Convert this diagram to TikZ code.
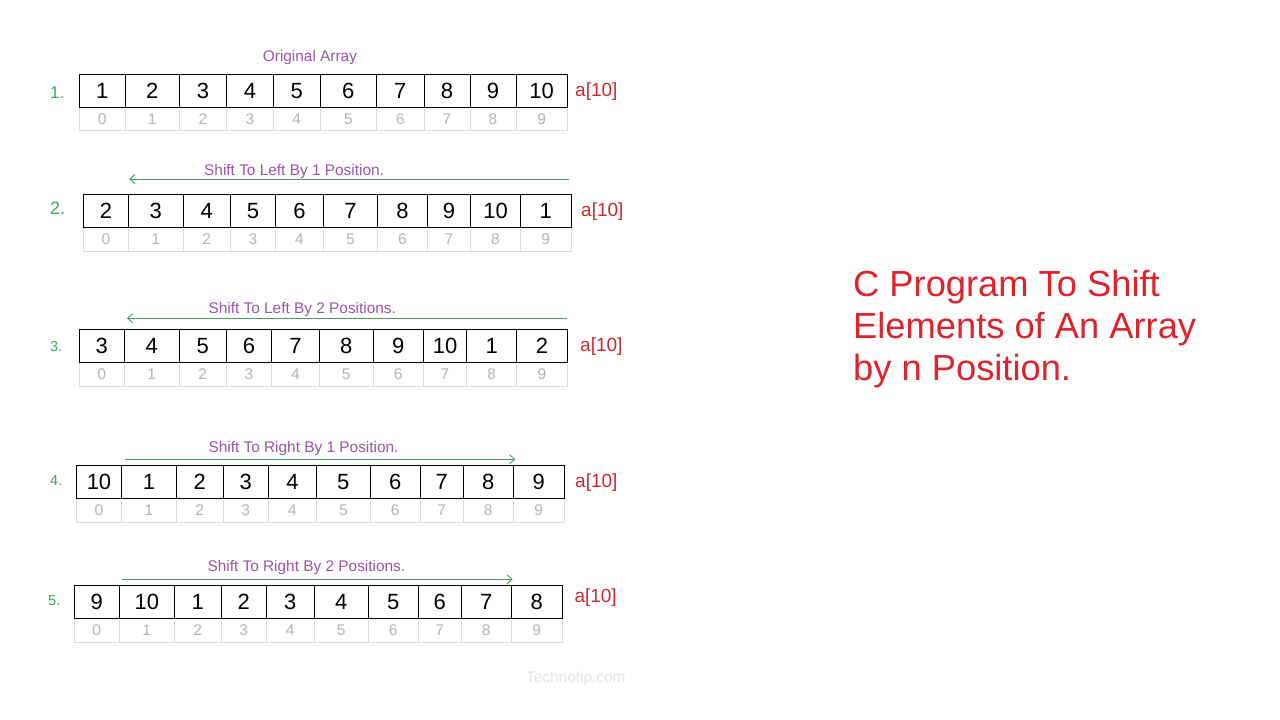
\documentclass[tikz,border=0pt]{standalone}
\usepackage{fontspec}
\setmainfont{Liberation Sans}
\usetikzlibrary{arrows.meta}
\definecolor{lblgreen}{RGB}{60,168,90}
\definecolor{arrgreen}{RGB}{70,160,100}
\definecolor{ttlpurple}{RGB}{155,85,165}
\definecolor{arrred}{RGB}{205,40,45}
\definecolor{bigred}{RGB}{222,35,45}
\definecolor{idxgray}{RGB}{180,180,180}
\definecolor{idxline}{RGB}{220,220,220}
\definecolor{wmgray}{RGB}{228,228,228}
\tikzset{
  cell/.style={draw=black, line width=1pt, inner sep=0pt, outer sep=0pt,
    font=\fontsize{22}{26}\selectfont, text=black},
  idxcell/.style={draw=idxline, line width=1pt, inner sep=0pt, outer sep=0pt,
    font=\fontsize{15.5}{18}\selectfont, text=idxgray},
  rowlbl/.style={anchor=west, inner sep=0pt, text=lblgreen},
  arrlbl/.style={anchor=base west, inner sep=0pt, text=arrred, font=\fontsize{19}{22}\selectfont},
  shifttitle/.style={anchor=base west, inner sep=0pt, text=ttlpurple, font=\fontsize{15.4}{18}\selectfont},
  shiftarrow/.style={draw=arrgreen, line width=0.9pt, -{Straight Barb[length=5pt,width=9pt,line width=0.9pt]}},
  bigtitle/.style={anchor=base west, inner sep=0pt, text=bigred, font=\fontsize{36.3}{42}\selectfont}
}
\newcommand\drawarrrow[5]{%
  \foreach \l/\r/\v [count=\i from 0] in {#5} {
    \node[idxcell, minimum width={(\r-\l)*1pt}, minimum height={(#4-#3)*1pt}]
      (#1i\i) at ({(\l+\r)/2},{(#3+#4)/2}) {\i};
  }
  \foreach \l/\r/\v [count=\i from 0] in {#5} {
    \node[cell, minimum width={(\r-\l)*1pt}, minimum height={(#3-#2)*1pt}]
      (#1c\i) at ({(\l+\r)/2},{(#2+#3)/2}) {\v};
  }
}
\begin{document}
\begin{tikzpicture}[x=1pt,y=-1pt]
\fill[white] (0,0) rectangle (1280,720);
\useasboundingbox (0,0) rectangle (1280,720);

% Row 1
\node[shifttitle] (t1) at (262.7,61.5) {Original Array};
\node[rowlbl, font=\fontsize{17}{20}\selectfont] (l1) at (50,92.5) {1.};
\drawarrrow{ra}{74.3}{107.3}{130.7}{79.3/125/1, 125/179.3/2, 179.3/226.7/3, 226.7/273.3/4, 273.3/320/5, 320/376.7/6, 376.7/424/7, 424/470/8, 470/516/9, 516/567.3/10}
\node[arrlbl] (n1) at (575,96) {a[10]};

% Row 2
\node[shifttitle] (t2) at (204,175) {Shift To Left By 1 Position.};
\coordinate (s2) at (569.3,179);
\coordinate (e2) at (129.3,179);
\draw[shiftarrow] (s2) -- (e2);
\node[rowlbl, font=\fontsize{18}{21}\selectfont] (l2) at (50,208) {2.};
\drawarrrow{rb}{194.3}{227}{251}{83.7/128.3/2, 128.3/183.3/3, 183.3/230.3/4, 230.3/275.7/5, 275.7/323.3/6, 323.3/377.7/7, 377.7/427.3/8, 427.3/470.7/9, 470.7/520.3/10, 520.3/571.3/1}
\node[arrlbl] (n2) at (581,216.5) {a[10]};

% Row 3
\node[shifttitle] (t3) at (208.3,313.3) {Shift To Left By 2 Positions.};
\coordinate (s3) at (567.3,318.3);
\coordinate (e3) at (127,318.3);
\draw[shiftarrow] (s3) -- (e3);
\node[rowlbl, font=\fontsize{14.5}{17}\selectfont] (l3) at (50,347) {3.};
\drawarrrow{rc}{329.3}{362.3}{386}{79.3/124.3/3, 124.3/179.3/4, 179.3/226.3/5, 226.3/271.7/6, 271.7/319.3/7, 319.3/373.3/8, 373.3/423.3/9, 423.3/466.7/10, 466.7/516.7/1, 516.7/567.3/2}
\node[arrlbl] (n3) at (580,351) {a[10]};

% Row 4
\node[shifttitle] (t4) at (208.3,452.5) {Shift To Right By 1 Position.};
\coordinate (s4) at (125.3,459.3);
\coordinate (e4) at (515.3,459.3);
\draw[shiftarrow] (s4) -- (e4);
\node[rowlbl, font=\fontsize{14.5}{17}\selectfont] (l4) at (50,481) {4.};
\drawarrrow{rd}{465.7}{498.3}{522}{76.3/121.7/10, 121.7/176.3/1, 176.3/223.3/2, 223.3/268.3/3, 268.3/316.7/4, 316.7/370/5, 370/420.3/6, 420.3/463.3/7, 463.3/513.3/8, 513.3/564.3/9}
\node[arrlbl] (n4) at (575,487) {a[10]};

% Row 5
\node[shifttitle] (t5) at (207.3,571) {Shift To Right By 2 Positions.};
\coordinate (s5) at (122,579.3);
\coordinate (e5) at (512.7,579.3);
\draw[shiftarrow] (s5) -- (e5);
\node[rowlbl, font=\fontsize{14.5}{17}\selectfont] (l5) at (48,601) {5.};
\drawarrrow{re}{585.3}{618.3}{642}{74.3/119.3/9, 119.3/174.3/10, 174.3/221.3/1, 221.3/266.3/2, 266.3/314.3/3, 314.3/368.3/4, 368.3/418.3/5, 418.3/461.3/6, 461.3/511.3/7, 511.3/562.3/8}
\node[arrlbl] (n5) at (574.3,602.7) {a[10]};

% Watermark
\node[anchor=base west, inner sep=0pt, text=wmgray, font=\fontsize{15.4}{18}\selectfont] (wm) at (526,682) {Technotip.com};

% Big title
\node[bigtitle] (bt1) at (853,296) {C Program To Shift};
\node[bigtitle] (bt2) at (853,338) {Elements of An Array};
\node[bigtitle] (bt3) at (853,380) {by n Position.};
\end{tikzpicture}
\end{document}
